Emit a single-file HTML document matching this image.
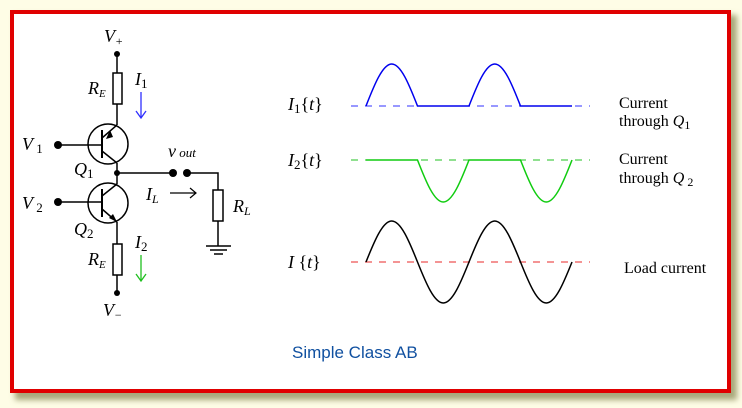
<!DOCTYPE html>
<html><head><style>
html,body{margin:0;padding:0;background:#fefde6;}
svg{display:block}
</style></head><body>
<svg width="742" height="408" viewBox="0 0 742 408" xmlns="http://www.w3.org/2000/svg" font-family="Liberation Serif, serif">
<defs><filter id="b" x="-5%" y="-5%" width="115%" height="115%"><feGaussianBlur stdDeviation="3"/></filter></defs>
<rect x="0" y="0" width="742" height="408" fill="#fefde6"/>
<rect x="15" y="15" width="722" height="385" fill="#a7a77a" filter="url(#b)"/>
<rect x="12" y="12" width="717" height="379" fill="#fff" stroke="#e00000" stroke-width="4"/>
<g stroke="#000" stroke-width="1.5" fill="none">
<line x1="117" y1="54" x2="117" y2="73"/>
<rect x="113" y="73" width="9" height="31" fill="#fff"/>
<line x1="117" y1="104" x2="117" y2="125"/>
<circle cx="108" cy="144" r="20"/>
<line x1="102" y1="130" x2="102" y2="158" stroke-width="2"/>
<line x1="58" y1="145" x2="102" y2="145"/>
<line x1="102" y1="138" x2="117" y2="125"/>
<line x1="102" y1="151" x2="117" y2="163"/>
<line x1="117" y1="163" x2="117" y2="184"/>
<line x1="117" y1="173" x2="173" y2="173"/>
<circle cx="108" cy="203" r="20"/>
<line x1="102" y1="189" x2="102" y2="217" stroke-width="2"/>
<line x1="58" y1="202" x2="102" y2="202"/>
<line x1="102" y1="196" x2="117" y2="184"/>
<line x1="102" y1="209" x2="117" y2="222"/>
<line x1="117" y1="222" x2="117" y2="244"/>
<rect x="113" y="244" width="9" height="31" fill="#fff"/>
<line x1="117" y1="275" x2="117" y2="293"/>
<polyline points="187,173 218,173 218,190"/>
<rect x="213" y="190" width="10" height="31" fill="#fff"/>
<line x1="218" y1="221" x2="218" y2="246"/>
<line x1="206" y1="246" x2="231" y2="246"/>
<line x1="210" y1="250" x2="227" y2="250"/>
<line x1="214" y1="254" x2="223" y2="254"/>
<line x1="170" y1="193" x2="196" y2="193" stroke-width="1.2"/>
<polyline points="190,188 196,193 190,198" stroke-width="1.2"/>
</g>
<polygon points="110,130 106,139 113,137" fill="#000"/>
<polygon points="117,222 109,218 113,214" fill="#000"/>
<g fill="#000">
<circle cx="117" cy="54" r="3"/><circle cx="117" cy="173" r="3"/><circle cx="117" cy="293" r="3"/>
<circle cx="58" cy="145" r="4"/><circle cx="58" cy="202" r="4"/>
<circle cx="173" cy="173" r="4"/><circle cx="187" cy="173" r="4"/>
</g>
<g stroke="#3030ff" stroke-width="1.3" fill="none"><line x1="141" y1="92" x2="141" y2="118"/><polyline points="136,111 141,118 146,111"/></g>
<g stroke="#20c020" stroke-width="1.3" fill="none"><line x1="141" y1="255" x2="141" y2="281"/><polyline points="136,274 141,281 146,274"/></g>
<g font-size="18" font-style="italic" fill="#000">
<text x="104" y="42">V<tspan font-size="12" dy="3">+</tspan></text>
<text x="88" y="94">R<tspan font-size="11" dy="3">E</tspan></text>
<text x="135" y="85">I<tspan font-size="13" dy="3" font-style="normal">1</tspan></text>
<text x="22" y="150">V<tspan font-size="13" dy="3" font-style="normal"> 1</tspan></text>
<text x="74" y="175">Q<tspan font-size="13" dy="3" font-style="normal">1</tspan></text>
<text x="168" y="157">v<tspan font-size="13" dy="0"> out</tspan></text>
<text x="146" y="200">I<tspan font-size="12" dy="3">L</tspan></text>
<text x="233" y="212">R<tspan font-size="12" dy="3">L</tspan></text>
<text x="22" y="209">V<tspan font-size="13" dy="3" font-style="normal"> 2</tspan></text>
<text x="74" y="235">Q<tspan font-size="13" dy="3" font-style="normal">2</tspan></text>
<text x="135" y="248">I<tspan font-size="13" dy="3" font-style="normal">2</tspan></text>
<text x="88" y="265">R<tspan font-size="11" dy="3">E</tspan></text>
<text x="103" y="316">V<tspan font-size="12" dy="3">−</tspan></text>
<text x="288" y="110">I<tspan font-size="13" dy="3" font-style="normal">1</tspan><tspan dy="-3" font-style="normal">{</tspan>t<tspan font-style="normal">}</tspan></text>
<text x="288" y="166">I<tspan font-size="13" dy="3" font-style="normal">2</tspan><tspan dy="-3" font-style="normal">{</tspan>t<tspan font-style="normal">}</tspan></text>
<text x="288" y="268">I <tspan font-style="normal">{</tspan>t<tspan font-style="normal">}</tspan></text>
</g>
<g font-size="16" fill="#000">
<text x="619" y="108">Current</text>
<text x="619" y="126">through <tspan font-style="italic">Q</tspan><tspan font-size="12" dy="3">1</tspan></text>
<text x="619" y="164">Current</text>
<text x="619" y="183">through <tspan font-style="italic">Q</tspan><tspan font-size="12" dy="3"> 2</tspan></text>
<text x="624" y="273">Load current</text>
</g>
<g stroke-width="1" fill="none" stroke-dasharray="7,7">
<line x1="351" y1="106" x2="590" y2="106" stroke="#3030ff"/>
<line x1="351" y1="160" x2="590" y2="160" stroke="#20c020"/>
<line x1="351" y1="262" x2="590" y2="262" stroke="#f07070" stroke-width="1.5"/>
</g>
<path d="M366,106 C374.4,84.5 382.7,64 391.75,64 C400.8,64 409.1,84.5 417.5,106 L469,106 C477.4,84.5 485.7,64 494.75,64 C503.8,64 512.1,84.5 520.5,106 L572,106" stroke="#0000ee" stroke-width="1.5" fill="none"/>
<path d="M366,160 L417.5,160 C425.9,181.5 434.2,202 443.25,202 C452.3,202 460.6,181.5 469,160 L520.5,160 C528.9,181.5 537.2,202 546.25,202 C555.3,202 563.6,181.5 572,160" stroke="#10cc10" stroke-width="1.5" fill="none"/>
<path d="M366,262 C374.4,241 382.7,221 391.75,221 C400.8,221 409.1,241 417.5,262 C425.9,283 434.2,303 443.25,303 C452.3,303 460.6,283 469,262 C477.4,241 485.7,221 494.75,221 C503.8,221 512.1,241 520.5,262 C528.9,283 537.2,303 546.25,303 C555.3,303 563.6,283 572,262" stroke="#000" stroke-width="1.5" fill="none"/>
<text x="292" y="358" font-family="Liberation Sans, sans-serif" font-size="17" fill="#1050a0">Simple Class AB</text>
</svg>
</body></html>
